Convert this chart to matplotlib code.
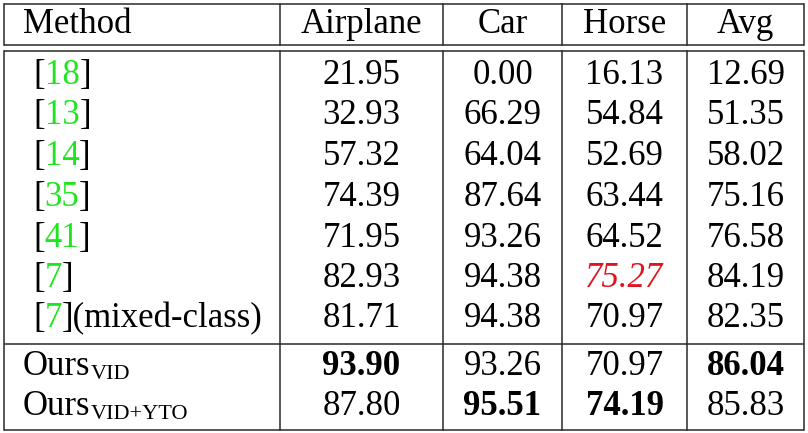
import matplotlib
matplotlib.use("Agg")
import matplotlib.pyplot as plt

# table contents
columns = ["Method", "Airplane", "Car", "Horse", "Avg"]
cite_refs = ["18", "13", "14", "35", "41", "7", "7"]
cite_suffix = ["", "", "", "", "", "", "(mixed-class)"]
ours_subs = ["VID", "VID+YTO"]
airplane = [21.95, 32.93, 57.32, 74.39, 71.95, 82.93, 81.71, 93.90, 87.80]
car = [0.00, 66.29, 64.04, 87.64, 93.26, 94.38, 94.38, 93.26, 95.51]
horse = [16.13, 54.84, 52.69, 63.44, 64.52, 75.27, 70.97, 70.97, 74.19]
avg = [12.69, 51.35, 58.02, 75.16, 76.58, 84.19, 82.35, 86.04, 85.83]

# highlighted cells (row, col)
bold_cells = [(7, 1), (8, 2), (8, 3), (7, 4)]
red_cells = [(5, 3)]

W, H = 808, 433
fig = plt.figure(figsize=(W / 100, H / 100), dpi=100)
ax = fig.add_axes([0, 0, 1, 1])
ax.set_xlim(0, W)
ax.set_ylim(H, 0)
ax.axis("off")

FONT = "Liberation Serif"
FS = 25
SUB_FS = 16
GREEN = "#1ee61e"
RED = "#e0141e"
LINE = "#2a2a2a"

renderer = fig.canvas.get_renderer()


def draw_runs(x, y, runs):
    # runs: list of (text, color, size, dy)
    for txt, color, size, dy in runs:
        t = ax.text(x, y + dy, txt, fontsize=size, family=FONT, color=color,
                    ha="left", va="baseline")
        bb = t.get_window_extent(renderer)
        x += bb.width


# grid lines
top, head_bot, body_top, sep, bottom = 3.5, 45, 50.5, 343.5, 429.5
vx = [3.5, 280, 443, 562, 687, 804]
for y in [top, head_bot, body_top, sep, bottom]:
    ax.plot([vx[0], vx[-1]], [y, y], color=LINE, lw=1.1, solid_capstyle="butt")
for x in vx:
    ax.plot([x, x], [top, head_bot], color=LINE, lw=1.1)
    ax.plot([x, x], [body_top, bottom], color=LINE, lw=1.1)

col_cx = [(vx[i] + vx[i + 1]) / 2 for i in range(1, 5)]

# header
head_base = 33
ax.text(23, head_base, columns[0], fontsize=FS, family=FONT, ha="left", va="baseline")
for cx, name in zip(col_cx, columns[1:]):
    ax.text(cx, head_base, name, fontsize=FS, family=FONT, ha="center", va="baseline")

row_base = [84, 124, 165, 206, 247, 287, 327, 375, 415]

# method column
for i, (ref, suf) in enumerate(zip(cite_refs, cite_suffix)):
    runs = [("[", "black", FS, 0), (ref, GREEN, FS, 0), ("]" + suf, "black", FS, 0)]
    draw_runs(33, row_base[i], runs)
for j, sub in enumerate(ours_subs):
    draw_runs(23, row_base[7 + j], [("Ours", "black", FS, 0), (sub, "black", SUB_FS, 4)])

# values
for c, vals in enumerate([airplane, car, horse, avg], start=1):
    for r, v in enumerate(vals):
        weight = "bold" if (r, c) in bold_cells else "normal"
        style = "italic" if (r, c) in red_cells else "normal"
        color = RED if (r, c) in red_cells else "black"
        ax.text(col_cx[c - 1], row_base[r], f"{v:.2f}", fontsize=FS, family=FONT,
                fontweight=weight, fontstyle=style, color=color,
                ha="center", va="baseline")

fig.savefig("out.png", dpi=100)
